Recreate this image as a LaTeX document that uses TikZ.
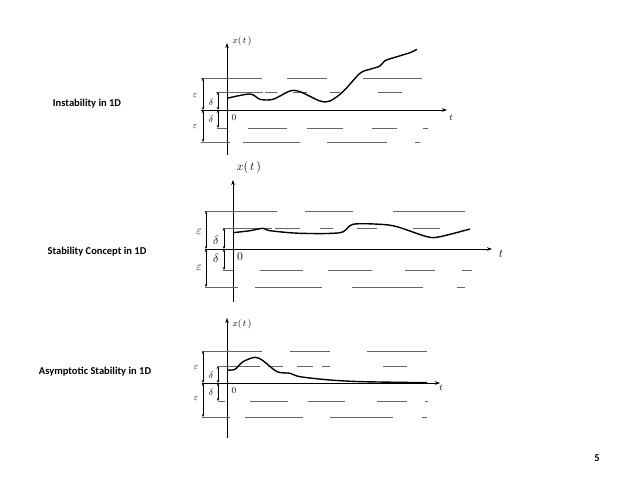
\documentclass[tikz,border=0pt]{standalone}
\usepackage{fontspec}
\newfontfamily\calfont{Carlito}
\usetikzlibrary{arrows.meta}
\begin{document}
\begin{tikzpicture}[x=1pt,y=-1pt,
 lvl/.style={gray!80!black,line width=0.7pt},
 ax/.style={line width=0.6pt,-{Stealth[length=5pt,width=3.5pt]}},
 dim/.style={line width=0.5pt,{Stealth[length=3pt,width=2.5pt]}-{Stealth[length=3pt,width=2.5pt]}},
 traj/.style={line width=1.4pt,line join=round},
 lab/.style={font=\calfont\bfseries\fontsize{10.5}{12}\selectfont},
 gk/.style={inner sep=0pt}]
\useasboundingbox (0,0) rectangle (638,478);
% ---------- panel 1 ----------
\coordinate (a1t) at (227,43); \coordinate (a1b) at (227,155);
\coordinate (a1r) at (447,110);
\draw[ax] (a1b) -- (a1t);
\draw[ax] (201,110) -- (a1r);
\foreach \a/\b in {201/262,287/327,363/422} \draw[lvl] (\a,78)--(\b,78);
\foreach \a/\b in {216/263,265/277,293/307,330/340,378/402} \draw[lvl] (\a,92)--(\b,92);
\foreach \a/\b in {217/227,248/287,307/343,372/397,423/428} \draw[lvl] (\a,128)--(\b,128);
\foreach \a/\b in {201/230,243/300,327/387,415/420} \draw[lvl] (\a,142)--(\b,142);
\draw[dim] (203,78)--(203,110); \draw[dim] (203,110)--(203,142);
\draw[dim] (218,92)--(218,110); \draw[dim] (218,110)--(218,128);
\node[gk] (e1a) at (195,96) {\small$\varepsilon$};
\node[gk] (e1b) at (195,127) {\small$\varepsilon$};
\node[gk] (d1a) at (211,102) {\small$\delta$};
\node[gk] (d1b) at (211,119) {\small$\delta$};
\node[gk] (z1) at (234,118) {\small 0};
\node[gk] (t1) at (451,118) {\small$t$};
\node[gk] (x1) at (242,41) {\small$x(\,t\,)$};
\draw[traj] plot[smooth,tension=0.5] coordinates {(227,98.3)(250,94)(260,99.3)(273,99.3)(290,91)(300,91.7)(320,101)(330,101)(343,91.7)(360,73.3)(370,69.3)(380,66)(385,60.7)(397,56.7)(410,52.7)(417,49.3)};
\node[lab] (L1) at (87,104) {Instability in 1D};
% ---------- panel 2 ----------
\coordinate (a2t) at (233,180); \coordinate (a2b) at (233,302);
\coordinate (a2r) at (492,249);
\draw[ax] (a2b) -- (a2t);
\draw[ax] (205,249) -- (a2r);
\foreach \a/\b in {205/277,305/353,393/465} \draw[lvl] (\a,211)--(\b,211);
\foreach \a/\b in {223/272,275/300,320/333,357/377,413/440} \draw[lvl] (\a,228)--(\b,228);
\foreach \a/\b in {223/233,260/303,328/372,405/435,462/472} \draw[lvl] (\a,270)--(\b,270);
\foreach \a/\b in {205/238,255/322,352/423,457/465} \draw[lvl] (\a,287)--(\b,287);
\draw[dim] (206,211)--(206,249); \draw[dim] (206,249)--(206,287);
\draw[dim] (224,228)--(224,249); \draw[dim] (224,249)--(224,270);
\node[gk] (e2a) at (199,232) {\large$\varepsilon$};
\node[gk] (e2b) at (199,268) {\large$\varepsilon$};
\node[gk] (d2a) at (216,240) {\large$\delta$};
\node[gk] (d2b) at (216,258) {\large$\delta$};
\node[gk] (z2) at (240,257) {\large 0};
\node[gk] (t2) at (501,254) {\large$t$};
\node[gk] (x2) at (249,168) {\large$x(\,t\,)$};
\draw[traj] plot[smooth,tension=0.5] coordinates {(233,232.7)(250,230.7)(263,228.3)(270,230.7)(300,233.3)(340,232.7)(353,224.3)(380,224.3)(397,226.7)(427,236.7)(440,236.7)(470,229)};
\node[lab] (L2) at (97,252) {Stability Concept in 1D};
% ---------- panel 3 ----------
\coordinate (a3t) at (227,318); \coordinate (a3b) at (227,438);
\coordinate (a3r) at (440,383);
\draw[ax] (a3b) -- (a3t);
\draw[ax] (202,383) -- (a3r);
\foreach \a/\b in {202/262,290/330,367/427} \draw[lvl] (\a,351)--(\b,351);
\foreach \a/\b in {218/260,268/283,297/313,322/330,383/407} \draw[lvl] (\a,366)--(\b,366);
\foreach \a/\b in {218/225,250/288,308/345,377/407,425/428} \draw[lvl] (\a,401)--(\b,401);
\foreach \a/\b in {202/230,245/303,330/393,422/427} \draw[lvl] (\a,417)--(\b,417);
\draw[dim] (203,351)--(203,383); \draw[dim] (203,383)--(203,417);
\draw[dim] (218,366)--(218,383); \draw[dim] (218,383)--(218,401);
\node[gk] (e3a) at (196,368) {\small$\varepsilon$};
\node[gk] (e3b) at (196,399) {\small$\varepsilon$};
\node[gk] (d3a) at (211,375) {\small$\delta$};
\node[gk] (d3b) at (211,392) {\small$\delta$};
\node[gk] (z3) at (234,391) {\small 0};
\node[gk] (t3) at (441,388) {\small$t$};
\node[gk] (x3) at (242,324) {\small$x(\,t\,)$};
\draw[traj] plot[smooth,tension=0.5] coordinates {(228,370)(235,369.3)(243,361.7)(255,357.3)(263,360.7)(277,371.7)(290,373.3)(300,376.7)(330,380)(363,381.7)(427,382.7)};
\node[lab] (L3) at (95,372) {Asymptotic Stability in 1D};
\node[lab] (pg) at (597,458) {5};
\end{tikzpicture}
\end{document}
